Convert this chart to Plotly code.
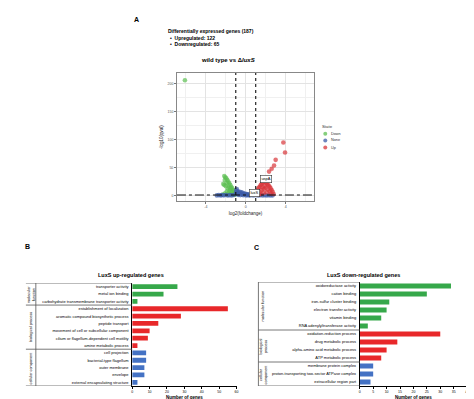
import plotly.graph_objects as go

W, H = 474, 399
FONT = "Liberation Sans, Arial, sans-serif"

# ---------------- Volcano data (panel A) ----------------
down_x = [-6.1, -2.15, -2.05, -1.95, -1.85, -2.1, -1.75, -1.65, -1.9, -1.55, -1.45, -1.7, -1.35, -1.25,
          -1.5, -1.15, -1.05, -2.25, -2.15, -2.0, -1.8, -1.6, -1.4, -1.9, -1.7, -1.5, -1.3, -2.1, -1.2,
          -1.1, -2.3, -1.8, -1.55, -1.35]
down_y = [206, 35, 33, 31, 28, 28, 25, 22, 22, 19, 16, 16, 13, 10,
          11, 7, 4, 21, 19, 17, 13, 9, 7, 8, 5, 3, 2, 4, 3,
          1.5, 2, 2, 13, 4]

none_x = [-2.9, -2.7, -2.5, -2.4, -2.2, -2.0, -1.8, -1.6, -1.4, -1.2, -0.95, -0.9, -0.85, -0.8, -0.7,
          -0.6, -0.5, -0.45, -0.35, -0.3, -0.2, -0.1, 0.0, 0.1, 0.2, 0.3, 0.4, 0.5, 0.6, 0.7, 0.8, 0.9,
          -0.75, -0.55, -0.25, 0.05, 0.35, 1.1, 1.3, 1.5, 1.7, 1.9, 2.1, 2.3, 2.5, 2.7, -0.9, -0.95]
none_y = [0.5, 1.0, 0.4, 1.3, 0.6, 1.1, 0.4, 0.9, 0.5, 1.1, 9, 6, 3, 8, 5,
          7, 4, 6, 2, 5, 3, 4, 2, 3, 1.5, 2.5, 1, 2, 0.8, 1.5, 0.6, 1.2,
          1.5, 1, 0.7, 0.5, 0.3, 0.8, 0.4, 1.0, 0.5, 0.9, 0.4, 0.8, 0.3, 0.6, 12, 4]

up_x = [3.77, 3.94, 3.0, 2.84, 2.6, 2.34, 1.05, 1.1, 1.2, 1.3, 1.4, 1.5, 1.6, 1.7, 1.8, 1.9, 2.0, 2.1,
        2.2, 2.3, 2.4, 2.5, 2.6, 2.7, 1.2, 1.4, 1.6, 1.8, 2.0, 2.2, 2.4, 1.5, 1.8, 2.1, 2.5, 1.3, 2.8,
        2.0, 1.9, 1.7, 2.3]
up_y = [95, 77, 64, 54, 48, 43, 5, 8, 11, 14, 16, 19, 21, 23, 25, 26, 24, 22,
        20, 18, 16, 13, 10, 7, 4, 7, 10, 12, 14, 11, 8, 3, 5, 6, 4, 2, 3,
        30, 17, 15, 27]

state_names = ["Down", "None", "Up"]

volcano_labels = ["uspA", "luxS"]
volcano_label_x = [2.0, 0.87]
volcano_label_y = [30, 4.8]

fc_cut = 1.0
q_line = 1.3

# ---------------- Panel B data ----------------
b_mf_cats = ["transporter activity", "metal ion binding", "carbohydrate transmembrane transporter activity"]
b_mf_vals = [26, 18, 3]
b_bp_cats = ["establishment of localization", "aromatic compound biosynthetic process", "peptide transport",
             "movement of cell or subcellular component", "cilium or flagellum-dependent cell motility",
             "amine metabolic process"]
b_bp_vals = [55, 28, 15, 10, 9, 3]
b_cc_cats = ["cell projection", "bacterial-type flagellum", "outer membrane", "envelope",
             "external encapsulating structure"]
b_cc_vals = [8, 8, 7, 7, 3]

# ---------------- Panel C data ----------------
c_mf_cats = ["oxidoreductase activity", "cation binding", "iron-sulfur cluster binding",
             "electron transfer activity", "vitamin binding", "RNA adenylyltransferase activity"]
c_mf_vals = [34, 25, 11, 10, 8, 3]
c_bp_cats = ["oxidation-reduction process", "drug metabolic process", "alpha-amino acid metabolic process",
             "ATP metabolic process"]
c_bp_vals = [30, 14, 10, 8]
c_cc_cats = ["membrane protein complex", "proton-transporting two-sector ATPase complex",
             "extracellular region part"]
c_cc_vals = [5, 5, 4]

GREEN, RED, BLUE = "#36a84a", "#e8282a", "#4472c4"
VOL_COLORS = ["#5cbf52", "#3d5ca8", "#d9363a"]


def px(x):
    return x / W


def py(y):
    return 1 - y / H


fig = go.Figure()

# Volcano traces
for xs, ys, nm, col in [(down_x, down_y, state_names[0], VOL_COLORS[0]),
                        (none_x, none_y, state_names[1], VOL_COLORS[1]),
                        (up_x, up_y, state_names[2], VOL_COLORS[2])]:
    fig.add_trace(go.Scatter(x=xs, y=ys, mode="markers", name=nm, showlegend=False,
                             marker=dict(color=col, size=4.6, opacity=0.7, line=dict(width=0)),
                             xaxis="x", yaxis="y"))

# Bars panel B
b_all = b_mf_cats + b_bp_cats + b_cc_cats
for cats, vals, col in [(b_mf_cats, b_mf_vals, GREEN), (b_bp_cats, b_bp_vals, RED), (b_cc_cats, b_cc_vals, BLUE)]:
    fig.add_trace(go.Bar(x=vals, y=cats, orientation="h", marker=dict(color=col, line=dict(width=0)),
                         width=0.65, showlegend=False, xaxis="x2", yaxis="y2"))
# Bars panel C
c_all = c_mf_cats + c_bp_cats + c_cc_cats
for cats, vals, col in [(c_mf_cats, c_mf_vals, GREEN), (c_bp_cats, c_bp_vals, RED), (c_cc_cats, c_cc_vals, BLUE)]:
    fig.add_trace(go.Bar(x=vals, y=cats, orientation="h", marker=dict(color=col, line=dict(width=0)),
                         width=0.65, showlegend=False, xaxis="x3", yaxis="y3"))

tickf = dict(family=FONT, size=3.5, color="#000")
catf = dict(family=FONT, size=4, color="#000")

fig.update_layout(
    width=W, height=H, margin=dict(l=0, r=0, t=0, b=0),
    paper_bgcolor="white", plot_bgcolor="white",
    font=dict(family=FONT, color="#000"),
    showlegend=False,
    xaxis=dict(domain=[px(169), px(307)], range=[-6.9, 6.85], anchor="y",
               tickvals=[-4, 0, 4], ticktext=["-4", "0", "4"], tickfont=dict(family=FONT, size=3.5, color="#555"),
               ticks="outside", ticklen=2, tickcolor="#777", showline=True, linecolor="#888", linewidth=0.8,
               mirror=True, showgrid=True, gridcolor="#e3e3e3", gridwidth=0.6, zeroline=False,
               minor=dict(tickvals=[-6, -2, 2, 6], showgrid=True, gridcolor="#f0f0f0", gridwidth=0.4),
               title=dict(text="log2(foldchange)", font=dict(family=FONT, size=4.5, color="#222"), standoff=3)),
    yaxis=dict(domain=[py(193), py(65)], range=[-9.5, 219], anchor="x",
               tickvals=[0, 50, 100, 150, 200], tickfont=dict(family=FONT, size=3.5, color="#555"),
               ticks="outside", ticklen=2, tickcolor="#777", showline=True, linecolor="#888", linewidth=0.8,
               mirror=True, showgrid=True, gridcolor="#e3e3e3", gridwidth=0.6, zeroline=False,
               minor=dict(tickvals=[25, 75, 125, 175], showgrid=True, gridcolor="#f0f0f0", gridwidth=0.4),
               title=dict(text="-log10(qval)", font=dict(family=FONT, size=4.5, color="#222"), standoff=3)),
    xaxis2=dict(domain=[px(124), px(229)], range=[0, 60], anchor="y2", dtick=10,
                tickfont=tickf, ticks="outside", ticklen=2, tickcolor="#000", showline=True,
                linecolor="#000", linewidth=0.7, showgrid=False, zeroline=False,
                title=dict(text="<b>Number of genes</b>", font=dict(family=FONT, size=4.5), standoff=2)),
    yaxis2=dict(domain=[py(378), py(275)], range=[len(b_all) - 0.5, -0.5], anchor="x2",
                type="category", categoryorder="array", categoryarray=b_all,
                tickfont=catf, ticks="", showline=True, linecolor="#000", linewidth=0.7,
                showgrid=False, zeroline=False, ticklabelstandoff=2),
    xaxis3=dict(domain=[px(353), px(461)], range=[0, 40], anchor="y3", dtick=5,
                tickfont=tickf, ticks="outside", ticklen=2, tickcolor="#000", showline=True,
                linecolor="#000", linewidth=0.7, showgrid=False, zeroline=False,
                title=dict(text="<b>Number of genes</b>", font=dict(family=FONT, size=4.5), standoff=2)),
    yaxis3=dict(domain=[py(378), py(274)], range=[len(c_all) - 0.5, -0.5], anchor="x3",
                type="category", categoryorder="array", categoryarray=c_all,
                tickfont=catf, ticks="", showline=True, linecolor="#000", linewidth=0.7,
                showgrid=False, zeroline=False, ticklabelstandoff=2),
)

shapes = []
# volcano threshold lines
for xv in (-fc_cut, fc_cut):
    shapes.append(dict(type="line", xref="x", yref="paper", x0=xv, x1=xv, y0=py(193), y1=py(65),
                       line=dict(color="#111", width=1.1, dash="dot")))
shapes.append(dict(type="line", xref="paper", yref="y", x0=px(169), x1=px(307), y0=q_line, y1=q_line,
                   line=dict(color="#111", width=1.1, dash="dashdot")))

# manual legend for volcano
leg_y = [125.7, 132.5, 139.5]
for col, ly in zip(VOL_COLORS, leg_y):
    shapes.append(dict(type="circle", xref="paper", yref="paper", x0=px(316.3), x1=px(320.3),
                       y0=py(ly + 2), y1=py(ly - 2), fillcolor=col, opacity=0.75, line=dict(width=0)))

# group boxes panel B
nb1, nb2, nbt = len(b_mf_cats), len(b_mf_cats) + len(b_bp_cats), len(b_all)
for yv in (-0.5, nb1 - 0.5, nb2 - 0.5, nbt - 0.5):
    shapes.append(dict(type="line", xref="paper", yref="y2", x0=px(17), x1=px(124), y0=yv, y1=yv,
                       line=dict(color="#555", width=0.8)))
shapes.append(dict(type="line", xref="paper", yref="y2", x0=px(27), x1=px(27), y0=-0.5, y1=nbt - 0.5,
                   line=dict(color="#555", width=0.8)))
# group boxes panel C
nc1, nc2, nct = len(c_mf_cats), len(c_mf_cats) + len(c_bp_cats), len(c_all)
for yv in (-0.5, nc1 - 0.5, nc2 - 0.5, nct - 0.5):
    shapes.append(dict(type="line", xref="paper", yref="y3", x0=px(251), x1=px(353), y0=yv, y1=yv,
                       line=dict(color="#555", width=0.8)))
shapes.append(dict(type="line", xref="paper", yref="y3", x0=px(251), x1=px(251), y0=-0.5, y1=nct - 0.5,
                   line=dict(color="#555", width=0.8)))
fig.update_layout(shapes=shapes)

ann = []


def text(x, y, s, size, xanchor="left", color="#000"):
    ann.append(dict(x=px(x), y=py(y), xref="paper", yref="paper", text=s, showarrow=False,
                    xanchor=xanchor, yanchor="middle", font=dict(family=FONT, size=size, color=color)))


text(124, 11, "<b>A</b>", 7)
text(14, 238, "<b>B</b>", 7)
text(245, 239, "<b>C</b>", 7)
text(158, 23, "<b>Differentially expressed genes (187)</b>", 5)
text(160, 29.5, "<b>•  Upregulated: 122</b>", 5)
text(160, 35.5, "<b>•  Downregulated: 65</b>", 5)
text(220, 52, "<b>wild type vs Δ<i>luxS</i></b>", 6, xanchor="center")
text(123, 267, "<b>LuxS up-regulated genes</b>", 5.5, xanchor="center")
text(357, 267, "<b>LuxS down-regulated genes</b>", 5.5, xanchor="center")

# legend texts
text(313, 118.5, "State", 4.3, color="#333")
for nm, ly in zip(state_names, leg_y):
    text(322.5, ly, nm, 3.8, color="#333")

# group labels
for lbl, mid in [("molecular<br>function", (nb1 - 1) / 2), ("biological process", (nb1 + nb2 - 1) / 2),
                 ("cellular component", (nb2 + nbt - 1) / 2)]:
    ann.append(dict(x=px(22), y=mid, xref="paper", yref="y2", text=lbl, showarrow=False, textangle=-90,
                    xanchor="center", yanchor="middle", font=dict(family=FONT, size=3.8, color="#000")))
for lbl, mid in [("molecular function", (nc1 - 1) / 2), ("biological<br>process", (nc1 + nc2 - 1) / 2),
                 ("cellular<br>component", (nc2 + nct - 1) / 2)]:
    ann.append(dict(x=px(256), y=mid, xref="paper", yref="y3", text=lbl, showarrow=False, textangle=-90,
                    xanchor="center", yanchor="middle", font=dict(family=FONT, size=3.8, color="#000")))

# volcano gene labels
for lbl, lx, ly in zip(volcano_labels, volcano_label_x, volcano_label_y):
    ann.append(dict(x=lx, y=ly, xref="x", yref="y", text=lbl, showarrow=False, xanchor="center",
                    yanchor="middle", bgcolor="white", bordercolor="#333", borderwidth=0.6, borderpad=0.8,
                    font=dict(family=FONT, size=4, color="#000")))

fig.update_layout(annotations=ann)
fig.write_html("out.html")
